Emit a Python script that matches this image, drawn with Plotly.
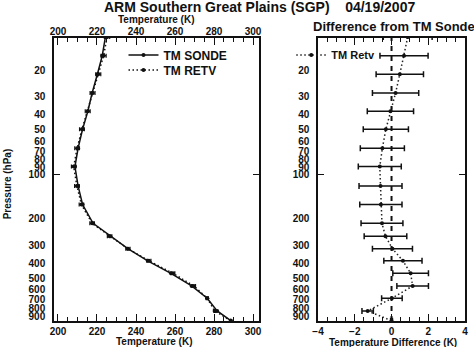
import plotly.graph_objects as go

# Retrieval levels (hPa) and temperatures (K)
pressure_hpa = [12, 16, 21.3, 28.5, 37.8, 50, 67, 89, 120, 160, 214, 261, 317, 382, 464, 564, 682, 830, 965]
sonde_temp_k = [224.3, 222.7, 220.2, 217.5, 215.3, 212.6, 210.3, 208.7, 210.3, 212.6, 218.0, 226.8,
                235.8, 246.0, 257.9, 268.5, 276.5, 281.6, 288.6]
retv_minus_sonde_k = [0.88, 0.68, 0.45, 0.22, -0.06, -0.31, -0.50, -0.64, -0.60, -0.58, -0.52, -0.33,
                      0.05, 0.62, 1.04, 1.15, 0.02, -1.30, 0.0]
retv_uncert_k = [1.33, 1.31, 1.29, 1.26, 1.26, 1.23, 1.20, 1.17, 1.17, 1.15, 1.14, 1.16,
                 1.09, 1.04, 0.97, 0.86, 0.56, 0.31, 0.05]
pressure_ticks = [20, 30, 40, 50, 60, 70, 80, 90, 100, 200, 300, 400, 500, 600, 700, 800, 900]
pressure_marks = [100]

retv_temp_k = [s + d for s, d in zip(sonde_temp_k, retv_minus_sonde_k)]

FONT = "Liberation Sans, Arial, Helvetica, sans-serif"
INK = "#111111"
W, H = 474, 347
ML, MR, MT, MB = 54, 6, 38, 26
PW, PH = W - ML - MR, H - MT - MB
DOTTED = "1.5px,2.5px"


def px_x(px):
    return (px - ML) / PW


def px_y(py):
    return (H - MB - py) / PH


def carrier(xa, ya):
    # invisible trace that keeps an auxiliary axis drawn
    return go.Scatter(x=sonde_temp_k if xa != "x2" else retv_minus_sonde_k, y=pressure_hpa,
                      mode="lines", line=dict(width=0), opacity=0, showlegend=False,
                      hoverinfo="skip", xaxis=xa, yaxis=ya)


fig = go.Figure()

fig.add_trace(go.Scatter(
    x=sonde_temp_k, y=pressure_hpa, mode="lines+markers", name="TM SONDE",
    line=dict(color=INK, width=1.5), marker=dict(size=4, color=INK),
    xaxis="x", yaxis="y", legend="legend"))
fig.add_trace(go.Scatter(
    x=retv_temp_k, y=pressure_hpa, mode="lines+markers", name="TM RETV",
    line=dict(color=INK, width=1.5, dash=DOTTED), marker=dict(size=4, color=INK),
    error_x=dict(type="data", array=retv_uncert_k, color=INK, thickness=1.2, width=2),
    xaxis="x", yaxis="y", legend="legend3"))
fig.add_trace(go.Scatter(
    x=retv_minus_sonde_k, y=pressure_hpa, mode="lines+markers", name="TM Retv",
    line=dict(color="#222222", width=1.5, dash=DOTTED), marker=dict(size=4, color=INK),
    error_x=dict(type="data", array=retv_uncert_k, color=INK, thickness=1.5, width=3),
    xaxis="x2", yaxis="y2", legend="legend2"))
fig.add_trace(carrier("x3", "y"))
fig.add_trace(carrier("x", "y3"))
fig.add_trace(carrier("x2", "y4"))

fig.add_vline(x=0, xref="x2", line=dict(color=INK, width=2, dash="5px,5px"))

temp_range = [197.96, 303.05]
p_range = [2.9866, 1.0852]
tickfont = dict(family=FONT, size=10, color=INK, weight="bold")

temp_axis = dict(
    range=temp_range, tick0=200, dtick=20, ticks="inside", ticklen=7, tickwidth=1.2,
    tickcolor=INK, minor=dict(dtick=5, ticks="inside", ticklen=4, tickwidth=1, tickcolor=INK),
    showgrid=False, zeroline=False, tickfont=tickfont, domain=[0, px_x(260.5)], anchor="y",
)
p_axis = dict(
    type="log", range=p_range, tickvals=pressure_ticks, ticktext=[str(v) for v in pressure_ticks],
    ticks="", showgrid=False, zeroline=False, showline=True, linewidth=1.5,
    linecolor=INK, mirror=True, tickfont=tickfont, ticklabelstandoff=5,
)
p_mark_axis = dict(
    type="log", range=p_range, tickvals=pressure_marks, ticks="inside", ticklen=6,
    tickwidth=1.2, tickcolor=INK, showticklabels=False, showgrid=False, zeroline=False,
    showline=False, mirror="ticks",
)


def legend_at(cx, cy, size):
    return dict(x=px_x(cx), y=px_y(cy), xanchor="left", yanchor="middle",
                font=dict(family=FONT, size=size, color=INK, weight="bold"),
                bgcolor="rgba(0,0,0,0)", itemwidth=30)


fig.update_layout(
    width=W, height=H, margin=dict(l=ML, r=MR, t=MT, b=MB),
    paper_bgcolor="white", plot_bgcolor="white",
    font=dict(family=FONT, color=INK, weight="bold"),
    xaxis=dict(**temp_axis, showline=True, linewidth=1.5, linecolor=INK, mirror=True),
    xaxis3=dict(**temp_axis, overlaying="x", side="top", showline=False),
    xaxis2=dict(
        range=[-4, 4], dtick=2, ticks="inside", ticklen=7, tickwidth=1.2, tickcolor=INK,
        minor=dict(dtick=0.5, ticks="inside", ticklen=4, tickwidth=1, tickcolor=INK),
        showgrid=False, zeroline=False, showline=True, linewidth=1.5, linecolor=INK,
        mirror="ticks", tickfont=tickfont, domain=[px_x(320), 1], anchor="y2",
    ),
    yaxis=dict(**p_axis, anchor="x"),
    yaxis2=dict(**p_axis, anchor="x2", matches="y"),
    yaxis3=dict(**p_mark_axis, anchor="x", overlaying="y", side="left"),
    yaxis4=dict(**p_mark_axis, anchor="x2", overlaying="y2", side="left"),
    legend=legend_at(124, 55, 12),
    legend3=legend_at(124, 70, 12),
    legend2=legend_at(293, 55, 11),
    showlegend=True,
)


def label(text, cx, cy, size, **kw):
    fig.add_annotation(text=text, x=px_x(cx), y=px_y(cy), xref="paper", yref="paper",
                       showarrow=False, font=dict(family=FONT, size=size, color=INK, weight="bold"),
                       **kw)


label("ARM Southern Great Plains (SGP)\u00a0\u00a0\u00a0\u00a004/19/2007", 261, 7, 14,
      xanchor="center", yanchor="middle")
label("Temperature (K)", 157, 20, 10, xanchor="center", yanchor="middle")
label("Temperature (K)", 155, 341, 10, xanchor="center", yanchor="middle")
label("Temperature Difference (K)", 395, 342, 10, xanchor="center", yanchor="middle")
label("Difference from TM Sonde", 313, 27, 13, xanchor="left", yanchor="middle")
label("Pressure (hPa)", 7, 184, 10, xanchor="center", yanchor="middle", textangle=-90)

fig.write_html("out.html")
